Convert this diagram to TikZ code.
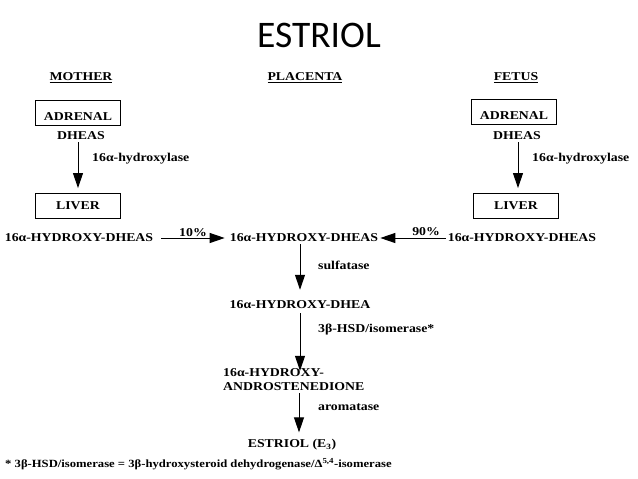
\documentclass[tikz,border=0pt]{standalone}
\usepackage{fontspec}
\setmainfont[FakeStretch=1.15]{Liberation Serif}
\newfontfamily\titlefont{Carlito}
\usetikzlibrary{arrows.meta}
\begin{document}
\begin{tikzpicture}[x=1pt,y=-1pt,
  txt/.style={font=\fontsize{12}{14}\bfseries\selectfont,inner sep=2pt},
  lbl/.style={font=\fontsize{12}{14}\bfseries\selectfont,inner sep=0pt,anchor=west},
  organ/.style={draw,line width=0.9pt,minimum width=85pt,minimum height=25pt,font=\fontsize{12}{14}\bfseries\selectfont,inner sep=0pt},
  low/.style={text height=14pt,text depth=0pt},
  hdr/.style={font=\fontsize{12}{14}\bfseries\selectfont,inner sep=0pt},
  arr/.style={line width=1pt,-{Triangle[length=15pt,width=10pt]}}]
\useasboundingbox (0,0) rectangle (638,479);
\node[font=\titlefont\fontsize{37.5}{40}\selectfont] (title) at (319,35) {ESTRIOL};
% headers
\node[hdr] (hm) at (81,78) {\underline{MOTHER}};
\node[hdr] (hp) at (305,78) {\underline{PLACENTA}};
\node[hdr] (hf) at (516,78) {\underline{FETUS}};
% mother
\node[organ,low] (madr) at (78,113) {ADRENAL};
\node[txt] (mdheas) at (81,136) {DHEAS};
\node[organ] (mliv) at (78,206) {LIVER};
\node[lbl] (mhyd) at (92,159) {16α-hydroxylase};
\draw[arr] (mliv.north |- mdheas.south) -- ([yshift=5pt]mliv.north);
% fetus
\node[organ,low] (fadr) at (514,112) {ADRENAL};
\node[txt] (fdheas) at (517,136) {DHEAS};
\node[organ] (fliv) at (516,206) {LIVER};
\node[lbl] (fhyd) at (532,159) {16α-hydroxylase};
\coordinate (fcol) at (518,0);
\draw[arr] (fcol |- fdheas.south) -- ([yshift=5pt]fcol |- fliv.north);
% row
\node[txt] (mh) at (79,238) {16α-HYDROXY-DHEAS};
\node[txt] (ch) at (304,238) {16α-HYDROXY-DHEAS};
\node[txt] (fh) at (522,238) {16α-HYDROXY-DHEAS};
\draw[arr] ([xshift=6pt]mh.east) -- ([xshift=-3pt]ch.west) node[midway,above=1pt,font=\fontsize{12}{14}\bfseries\selectfont,inner sep=0pt] (p10) {10\%};
\draw[arr] (fh.west) -- (ch.east) node[pos=0.3,above=2pt,font=\fontsize{12}{14}\bfseries\selectfont,inner sep=0pt] (p90) {90\%};
% center column
\coordinate (col) at (300,0);
\node[txt] (cdhea) at (300,305) {16α-HYDROXY-DHEA};
\node[lbl] (sulf) at (318,265) {sulfatase};
\draw[arr] (col |- ch.south) -- ([yshift=9pt]col |- cdhea.north);
\node[lbl] (hsd) at (318,330) {3β-HSD/isomerase*};
\node[txt,align=left,anchor=west,inner sep=0pt] (andro) at (223,380) {16α-HYDROXY-\\ANDROSTENEDIONE};
\draw[arr] ([yshift=-2pt]col |- cdhea.south) -- ([yshift=-2pt]col |- andro.north);
\node[lbl] (arom) at (318,407) {aromatase};
\node[txt] (estriol) at (292,445) {ESTRIOL (E\textsubscript{3})};
\coordinate (col2) at (299,0);
\draw[arr] ([yshift=-2pt]col2 |- andro.south) -- ([yshift=5pt]col2 |- estriol.north);
% footnote
\node[lbl,font=\fontsize{11}{13}\bfseries\selectfont] (foot) at (5,464) {* 3β-HSD/isomerase = 3β-hydroxysteroid dehydrogenase/Δ\textsuperscript{5,4}-isomerase};
\end{tikzpicture}
\end{document}
